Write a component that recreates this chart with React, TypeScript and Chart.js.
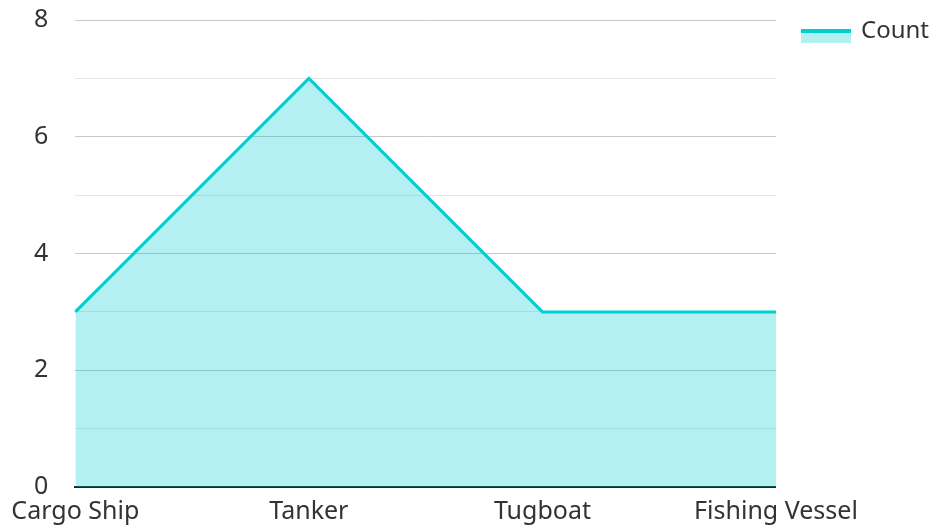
import React, { useEffect, useRef } from "react";
import { Chart, registerables } from "chart.js";

Chart.register(...registerables);

const categories = ["Cargo Ship", "Tanker", "Tugboat", "Fishing Vessel"];
const counts = [3, 7, 3, 3];
const seriesName = "Count";
const yTicks = [0, 2, 4, 6, 8];

const LINE = "#00CED1";
const FILL = "rgba(0, 206, 209, 0.3)";
const FONT = "'Noto Sans', 'Open Sans', sans-serif";
const TICK_SIZE = 25;
const LEGEND_SIZE = 24;
const LEGEND_PAD = 4;
const LEGEND_ITEM_W = 69;
const LEGEND_ITEM_H = 55;
const SYMBOL_W = 50;
const SYMBOL_H = 14;

const legendLinePlugin = {
  id: "legendLine",
  afterDraw(chart: any) {
    const legend = chart.legend;
    if (!legend || !legend.legendHitBoxes) return;
    const ctx = chart.ctx;
    ctx.save();
    legend.legendHitBoxes.forEach((hb: any) => {
      const left = hb.left + LEGEND_ITEM_W + LEGEND_SIZE / 2 - 60;
      const top = hb.top + 25;
      ctx.fillStyle = FILL;
      ctx.fillRect(left, top, SYMBOL_W, SYMBOL_H);
      ctx.fillStyle = LINE;
      ctx.fillRect(left, top, SYMBOL_W, 4);
    });
    ctx.restore();
  },
};

export default function App() {
  const ref = useRef<HTMLCanvasElement | null>(null);
  useEffect(() => {
    if (!ref.current) return;
    const chart = new Chart(ref.current, {
      type: "line",
      data: {
        labels: categories,
        datasets: [
          {
            label: seriesName,
            data: counts,
            borderColor: LINE,
            backgroundColor: FILL,
            borderWidth: 3,
            fill: "origin",
            pointRadius: 0,
            pointHoverRadius: 0,
            tension: 0,
          },
        ],
      },
      options: {
        animation: false,
        responsive: true,
        maintainAspectRatio: false,
        layout: { padding: { top: 0, right: -5, bottom: 2, left: 29 } },
        plugins: {
          tooltip: { enabled: false },
          legend: {
            position: "right",
            align: "start",
            labels: {
              boxWidth: LEGEND_ITEM_W,
              boxHeight: LEGEND_ITEM_H,
              padding: LEGEND_PAD,
              color: "#333",
              font: { family: FONT, size: LEGEND_SIZE },
              generateLabels: (c: any) =>
                c.data.datasets.map((d: any, i: number) => ({
                  text: d.label,
                  fillStyle: "rgba(0,0,0,0)",
                  strokeStyle: "rgba(0,0,0,0)",
                  lineWidth: 0,
                  datasetIndex: i,
                  hidden: false,
                  fontColor: "#333",
                })),
            },
          },
        },
        scales: {
          x: {
            offset: false,
            grid: { display: false },
            border: { display: true, color: "#222", width: 2 },
            ticks: { color: "#333", font: { family: FONT, size: TICK_SIZE }, padding: 2, maxRotation: 0 },
          },
          y: {
            min: 0,
            max: 8,
            border: { display: false },
            grid: {
              drawTicks: true,
              tickLength: 22,
              tickColor: "rgba(0,0,0,0)",
              color: (ctx: any) =>
                yTicks.includes(ctx.tick?.value) ? "#c8c8c8" : "#e6e6e6",
              lineWidth: 1,
            },
            ticks: {
              stepSize: 1,
              padding: 5,
              color: "#333",
              font: { family: FONT, size: TICK_SIZE },
              callback: (v: any) => (yTicks.includes(Number(v)) ? String(v) : ""),
            },
          },
        },
      },
      plugins: [legendLinePlugin],
    });
    return () => chart.destroy();
  }, []);
  return (
    <div style={{ position: "fixed", left: 0, top: 0, width: 934, height: 531 }}>
      <canvas ref={ref} />
    </div>
  );
}
